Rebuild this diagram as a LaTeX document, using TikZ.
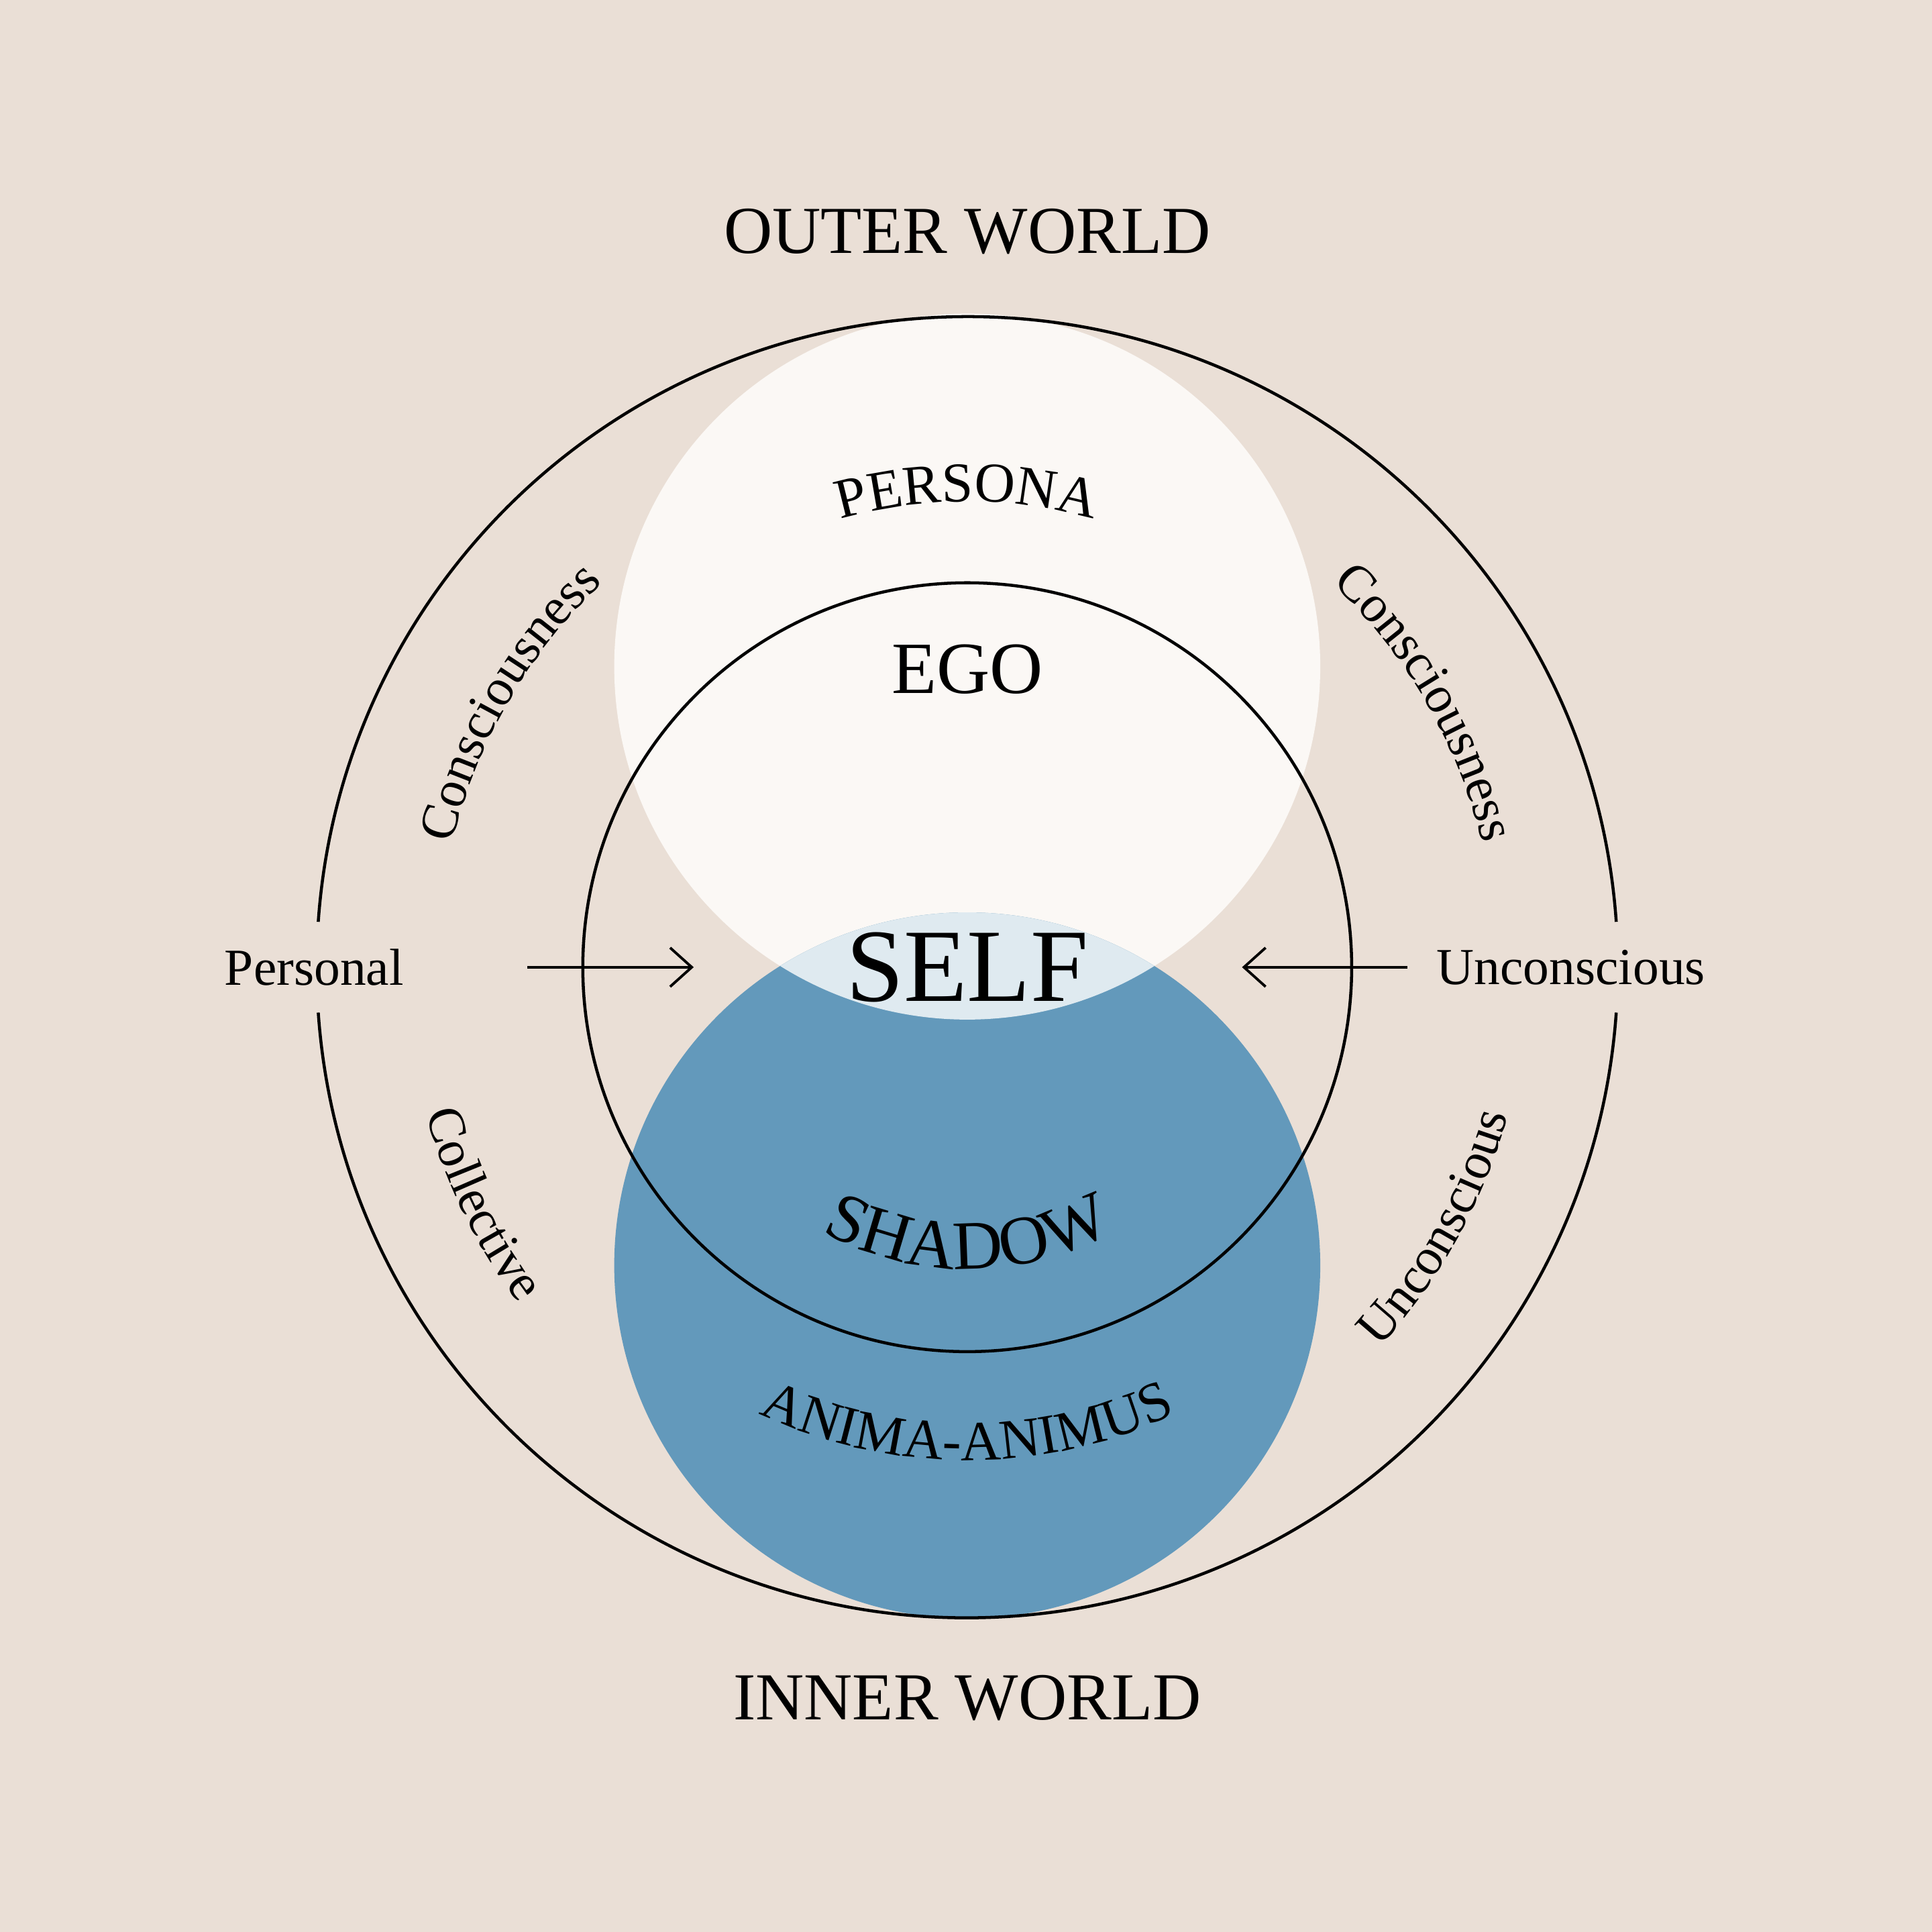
\documentclass[tikz,border=0pt]{standalone}
\usepackage{fontspec}
\setmainfont{Liberation Serif}
\usetikzlibrary{arrows.meta,decorations.text,calc}
\definecolor{bg}{HTML}{EADFD6}
\definecolor{wht}{HTML}{FBF8F5}
\definecolor{blu}{HTML}{6399BB}
\definecolor{lblu}{HTML}{DFEAF0}
\tikzset{
  line/.style={draw=black,line width=0.7pt},
  arr/.style={line width=0.6pt,-{Straight Barb[length=5pt,width=9pt]}},
  curv/.style={decorate,decoration={text along path,text align=center,text={#1}}},
  lbl/.style={font=\fontsize{12}{12}\selectfont}
}
\begin{document}
\begin{tikzpicture}
\fill[bg] (0,0) rectangle (15.68,15.68);
\useasboundingbox (0,0) rectangle (15.68,15.68);
\coordinate (c) at (7.85,7.83);
\coordinate (cw) at (7.85,10.27);
\coordinate (cb) at (7.85,5.41);
\fill[wht] (cw) circle (2.865);
\fill[blu] (cb) circle (2.865);
\begin{scope}
\clip (cw) circle (2.865);
\fill[lblu] (cb) circle (2.865);
\end{scope}
\draw[line] (c) ++(4:5.28) arc[start angle=4,end angle=176,radius=5.28];
\draw[line] (c) ++(184:5.28) arc[start angle=184,end angle=356,radius=5.28];
\draw[line] (c) circle (3.12);
\node[lbl] (pers) at (2.55,7.83) {Personal};
\node[lbl] (unc) at (12.75,7.83) {Unconscious};
\coordinate (la) at (4.28,7.83);
\coordinate (lb) at (5.63,7.83);
\coordinate (ra) at (11.42,7.83);
\coordinate (rb) at (10.08,7.83);
\draw[arr] (la) -- (lb);
\draw[arr] (ra) -- (rb);
\node[font=\fontsize{15.5}{15.5}\selectfont] (outer) at (7.85,13.80) {OUTER WORLD};
\node[font=\fontsize{15.5}{15.5}\selectfont] (inner) at (7.85,1.90) {INNER WORLD};
\node[font=\fontsize{17}{17}\selectfont] (ego) at (7.85,10.25) {EGO};
\node[font=\fontsize{24}{24}\selectfont] (self) at (7.85,7.83) {SELF};
\path[curv={|\fontsize{13}{13}\selectfont|PERSONA}] (c) ++(110:3.78) arc[start angle=110,end angle=70,radius=3.78];
\path[curv={|\fontsize{16}{16}\selectfont|SHADOW}] (c) ++(235:2.45) arc[start angle=235,end angle=305,radius=2.45];
\path[curv={|\fontsize{13}{13}\selectfont|ANIMA-ANIMUS}] (c) ++(236:4.0) arc[start angle=236,end angle=304,radius=4.0];
\path[curv={|\fontsize{12}{12}\selectfont|Consciousness}] (c) ++(172:4.3) arc[start angle=172,end angle=128,radius=4.3];
\path[curv={|\fontsize{12}{12}\selectfont|Consciousness}] (c) ++(52:4.3) arc[start angle=52,end angle=8,radius=4.3];
\path[curv={|\fontsize{12}{12}\selectfont|Collective}] (c) ++(186:4.55) arc[start angle=186,end angle=226,radius=4.55];
\path[curv={|\fontsize{12}{12}\selectfont|Unconscious}] (c) ++(-50:4.55) arc[start angle=-50,end angle=-8,radius=4.55];
\end{tikzpicture}
\end{document}
